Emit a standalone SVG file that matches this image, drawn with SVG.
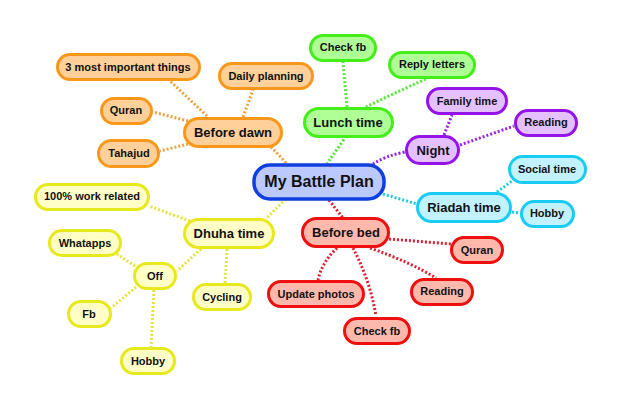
<svg xmlns="http://www.w3.org/2000/svg" width="621" height="410" viewBox="0 0 621 410">
<style>
text{font-family:"Liberation Sans",Arial,sans-serif;font-weight:700;fill:#111;text-anchor:middle}
.s{font-size:11px}.m{font-size:13px}.l{font-size:16px}
rect{stroke-width:3}
.c path{fill:none;stroke-width:3;stroke-dasharray:2 2}
.o rect{fill:#ffd09a;stroke:#f7981d}.y rect{fill:#ffffc6;stroke:#e8e81f}.g rect{fill:#aeff96;stroke:#44ee1a}.p rect{fill:#e5c0ff;stroke:#9313e8}.b rect{fill:#c2f2ff;stroke:#18ccf2}.r rect{fill:#ffb9ac;stroke:#ee0f0f}
</style>
<rect width="621" height="410" fill="#fff" style="stroke:none"/>
<g id="connectors" class="c">
<g stroke="#f2a03c"><path d="M271 147Q279 155 287 164"/><path d="M207 116L170 81"/><path d="M243 117L253 90"/><path d="M188 121L153 112"/><path d="M188 144L160 151"/></g>
<g stroke="#e4e43c"><path d="M286 199Q275 209 266 219"/><path d="M190 221L149 206"/><path d="M201 249L177 271"/><path d="M227 249L225 283"/><path d="M135 266L117 254"/><path d="M136 287L111 308"/><path d="M154 290L151 347"/></g>
<g stroke="#55e63a"><path d="M327 164Q335 152 345 138"/><path d="M347 107L343 62"/><path d="M366 107Q390 95 426 79"/></g>
<g stroke="#9a22e8"><path d="M373 164Q385 156 405 152"/><path d="M444 135L452 115"/><path d="M460 145L514 126"/></g>
<g stroke="#20c8e8"><path d="M383 194L417 204"/><path d="M497 192L512 181"/><path d="M512 212L520 213"/></g>
<g stroke="#dd1f30"><path d="M329 200L343 218"/><path d="M389 239L451 244"/><path d="M370 248Q410 262 436 278"/><path d="M337 248Q322 262 318 280"/><path d="M353 248Q370 280 376 316"/></g>
</g>
<g id="center"><rect x="254" y="165" width="130" height="34" rx="16" fill="#bcc9ff" stroke="#0f3fe0" style="stroke-width:3.5"/><text x="319" y="187" class="l">My Battle Plan</text></g>
<g id="before-dawn" class="o"><rect x="184.500" y="118.500" width="97" height="28" rx="14"/><text x="233" y="137" class="m">Before dawn</text></g>
<g id="most-important" class="o"><rect x="57.500" y="54.500" width="142" height="25" rx="12.500"/><text x="128" y="71" class="s">3 most important things</text></g>
<g id="daily-planning" class="o"><rect x="219.500" y="63.500" width="93" height="25" rx="12.500"/><text x="266" y="80" class="s">Daily planning</text></g>
<g id="quran-dawn" class="o"><rect x="101.500" y="98.500" width="50" height="25" rx="12.500"/><text x="126" y="114" class="s">Quran</text></g>
<g id="tahajud" class="o"><rect x="98.500" y="140.500" width="60" height="26" rx="13"/><text x="129" y="157" class="s">Tahajud</text></g>
<g id="dhuha" class="y"><rect x="184.500" y="219.500" width="89" height="28" rx="14"/><text x="229" y="238" class="m">Dhuha time</text></g>
<g id="work-related" class="y"><rect x="35.500" y="184.500" width="113" height="25" rx="12.500"/><text x="92" y="200" class="s">100% work related</text></g>
<g id="whatapps" class="y"><rect x="49.500" y="230.500" width="71" height="25" rx="12.500"/><text x="85" y="247" class="s">Whatapps</text></g>
<g id="off" class="y"><rect x="134.500" y="263.500" width="41" height="25" rx="12.500"/><text x="155" y="280" class="s">Off</text></g>
<g id="cycling" class="y"><rect x="193.500" y="284.500" width="57" height="25" rx="12.500"/><text x="222" y="301" class="s">Cycling</text></g>
<g id="fb" class="y"><rect x="68.500" y="301.500" width="42" height="25" rx="12.500"/><text x="89" y="318" class="s">Fb</text></g>
<g id="hobby-off" class="y"><rect x="121.500" y="348.500" width="53" height="25" rx="12.500"/><text x="148" y="365" class="s">Hobby</text></g>
<g id="lunch" class="g"><rect x="304.500" y="108.500" width="88" height="28" rx="14"/><text x="348" y="127" class="m">Lunch time</text></g>
<g id="check-fb-lunch" class="g"><rect x="310.500" y="35.500" width="65" height="25" rx="12.500"/><text x="343" y="51" class="s">Check fb</text></g>
<g id="reply" class="g"><rect x="389.500" y="52.500" width="85" height="25" rx="12.500"/><text x="432" y="68" class="s">Reply letters</text></g>
<g id="night" class="p"><rect x="406.500" y="136.500" width="52" height="27" rx="13.500"/><text x="433" y="155" class="m">Night</text></g>
<g id="family" class="p"><rect x="427.500" y="88.500" width="79" height="25" rx="12.500"/><text x="467" y="105" class="s">Family time</text></g>
<g id="reading-night" class="p"><rect x="515.500" y="110.500" width="61" height="25" rx="12.500"/><text x="546" y="126" class="s">Reading</text></g>
<g id="riadah" class="b"><rect x="417.500" y="193.500" width="93" height="28" rx="14"/><text x="464" y="212" class="m">Riadah time</text></g>
<g id="social" class="b"><rect x="509.500" y="156.500" width="76" height="26" rx="13"/><text x="547" y="173" class="s">Social time</text></g>
<g id="hobby-riadah" class="b"><rect x="521.500" y="201.500" width="52" height="25" rx="12.500"/><text x="547" y="217" class="s">Hobby</text></g>
<g id="before-bed" class="r"><rect x="302.500" y="218.500" width="86" height="28" rx="14"/><text x="346" y="237" class="m">Before bed</text></g>
<g id="quran-bed" class="r"><rect x="451.500" y="237.500" width="51" height="25" rx="12.500"/><text x="477" y="254" class="s">Quran</text></g>
<g id="update" class="r"><rect x="268.500" y="281.500" width="95" height="25" rx="12.500"/><text x="316" y="298" class="s">Update photos</text></g>
<g id="reading-bed" class="r"><rect x="411.500" y="279.500" width="61" height="25" rx="12.500"/><text x="442" y="295" class="s">Reading</text></g>
<g id="check-fb-bed" class="r"><rect x="344.500" y="318.500" width="65" height="25" rx="12.500"/><text x="377" y="335" class="s">Check fb</text></g>
</svg>
